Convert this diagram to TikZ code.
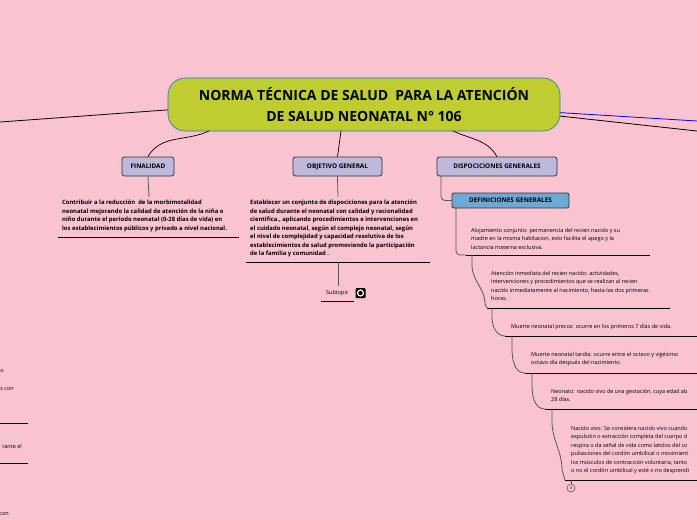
\documentclass[tikz,border=0pt]{standalone}
\usepackage{fontspec}
\setmainfont{Open Sans}
\begin{document}
\begin{tikzpicture}[x=1pt,y=-1pt,
  topic/.style={draw=black!80,line width=0.8pt,rounded corners=2.5pt,fill=boxlav,inner sep=0pt,minimum height=19pt,font=\fontsize{6.4}{7}\selectfont\bfseries},
  txt/.style={anchor=north west,align=left,inner sep=0pt,font=\fontsize{5.5}{8.5}\selectfont},
  btxt/.style={txt,font=\fontsize{5.9}{8.5}\selectfont\bfseries},
  uline/.style={line width=1pt,black},
  stem/.style={draw=gray!70!black,line width=0.8pt}]
\definecolor{bgpink}{HTML}{F9C3CF}
\definecolor{boxlav}{HTML}{BCB9DA}
\definecolor{defblue}{HTML}{6CA9D4}
\definecolor{olive}{HTML}{BFCD2E}
\fill[bgpink] (0,0) rectangle (697,520);
\useasboundingbox (0,0) rectangle (697,520);
\clip (0,0) rectangle (697,520);
\coordinate (L) at (0,122); \coordinate (R1) at (697,121); \coordinate (R2) at (697,131);
\draw[line width=0.8pt] (180,109) -- (L);
\draw[blue,line width=0.8pt] (550,112) -- (R1);
\draw[line width=0.8pt] (550,115) -- (R2);
\node[draw=cyan!60!blue,line width=0.6pt,fill=olive,rounded corners=17pt,minimum width=392pt,minimum height=53pt,inner sep=0pt,align=center,font=\fontsize{14}{21}\selectfont\bfseries] (c) at (364,104.5) {NORMA TÉCNICA DE SALUD\ \ PARA LA ATENCIÓN\\ DE SALUD NEONATAL N° 106};
\node[topic,minimum width=52pt] (f) at (148,166.5) {FINALIDAD};
\node[topic,minimum width=89pt] (o) at (337.5,166.5) {OBJETIVO GENERAL};
\node[topic,minimum width=120pt] (d) at (497,166.5) {DISPOCICIONES GENERALES};
\draw[line width=0.7pt] (209,131) to[out=-155,in=60] (f.north);
\draw[line width=0.7pt] (341,131) -- (o.north);
\draw[line width=0.7pt] (453,131) to[out=-25,in=120] (d.north);
% Finalidad
\draw[stem] (f.south) -- (149,197);
\node[btxt] (ft) at (62,200) {Contribuir a la reducción\ \ de la morbimotalidad\\ neonatal mejorando la calidad de atención de la niña o\\ niño durante el periodo neonatal (0-28 días de vida) en\\ los establecimientos públicos y privado a nivel nacional.};
\draw[uline] (58,237) -- (239,237);
% Objetivo
\draw[stem] (o.south) -- (338,197);
\node[btxt] (ot) at (250,200) {Establecer un conjunto de dispociciones para la atención\\ de salud durante el neonatal con calidad y racionalidad\\ científica., aplicando procedimientos e intervenciones en\\ el cuidado neonatal, según el complejo neonatal, según\\ el nivel de complejidad y capacidad resolutiva de los\\ establecimientos de salud promoviendo la participación\\ de la familia y comunidad .};
\draw[uline] (246,262) -- (430,262);
\draw[stem] (338,262) -- (338,286);
\node[txt,font=\fontsize{5.5}{7}\selectfont] (st) at (326,290) {Subtopic};
\node[fill=black,minimum size=10pt,inner sep=0pt,rounded corners=1pt] (ic) at (360.5,293) {};
\draw[white,line width=1.2pt] (ic) circle (3pt);
\draw[uline] (321,301) -- (354,301);
% Definiciones
\node[draw=black!80,line width=0.8pt,rounded corners=2pt,fill=defblue,minimum width=117pt,minimum height=15pt,inner sep=0pt,font=\fontsize{6.4}{7}\selectfont\bfseries] (dg) at (510.5,200.5) {DEFINICIONES GENERALES};
\draw[stem,rounded corners=4pt] (441,176) -- (441,200.5) -- (dg.west);
% staircase
\node[txt] (t1) at (471,228) {Alojamiento conjunto: permanencia del recien nacido y su\\ madre en la misma habitacion, esto facilita el apego y la\\ lactancia materna exclusiva.};
\draw[stem,rounded corners=4pt] (456,208) -- (456,255) -- (466,255);
\draw[uline] (466,255) -- (650,255);
\node[txt] (t2) at (491,271) {Atención inmediata del recien nacido: actividades,\\ intervenciones y procedimientos que se realizan al recien\\ nacido inmediatamente al nacimiento, hasta las dos primeras\\ horas.};
\draw[stem] (472,255) -- (472,265) to[out=-90,in=90] (485,304) -- (487,308);
\draw[uline] (487,308) -- (670,308);
\node[txt] (t3) at (511,324) {Muerte neonatal precoz: ocurre en los primeros 7 días de vida.};
\draw[stem] (492,308) -- (492,317) to[out=-90,in=180] (505,336);
\draw[uline] (505,336) -- (697,336);
\node[txt] (t4) at (531,352) {Muerte neonatal tardía: ocurre entre el octavo y vigésimo\\ octavo día después del nacimiento.};
\draw[stem] (512,336) -- (512,348) to[out=-90,in=180] (525,373);
\draw[uline] (525,373) -- (697,373);
\node[txt] (t5) at (551,389) {Neonato: nacido vivo de una gestación, cuya edad ab\\ 28 días.};
\draw[stem] (532,373) -- (532,385) to[out=-90,in=180] (545,409);
\draw[uline] (545,409) -- (697,409);
\node[txt] (t6) at (571,426) {Nacido vivo: Se considera nacido vivo cuando\\ expulsión o extracción completa del cuerpo d\\ respira o da señal de vida como latidos del co\\ pulsaciones del cordón umbilical o movimient\\ los músculos de contracción voluntaria, tanto\\ o no el cordón umbilical y esté o no desprendi};
\draw[stem] (552,409) -- (552,421) to[out=-90,in=90] (562,470) -- (565,480);
\draw[uline] (565,480) -- (697,480);
\node[draw=gray!60!black,circle,line width=0.5pt,minimum size=8pt,inner sep=0pt,font=\fontsize{4}{5}\selectfont] (n3) at (571,488) {3};
\draw[gray!60!black,line width=0.5pt] (571,480) -- (n3.north);
% left cut-off fragments
\node[txt,anchor=north east] (lf1) at (4,369) {o};
\node[txt,anchor=north east] (lf2) at (14,387) {s con};
\draw[uline] (0,423) -- (28,423);
\node[txt,anchor=north east] (lf3) at (22,444) {rante el};
\draw[uline] (0,463) -- (28,463);
\node[txt,anchor=north east] (lf4) at (9,512) {con};
\end{tikzpicture}
\end{document}
